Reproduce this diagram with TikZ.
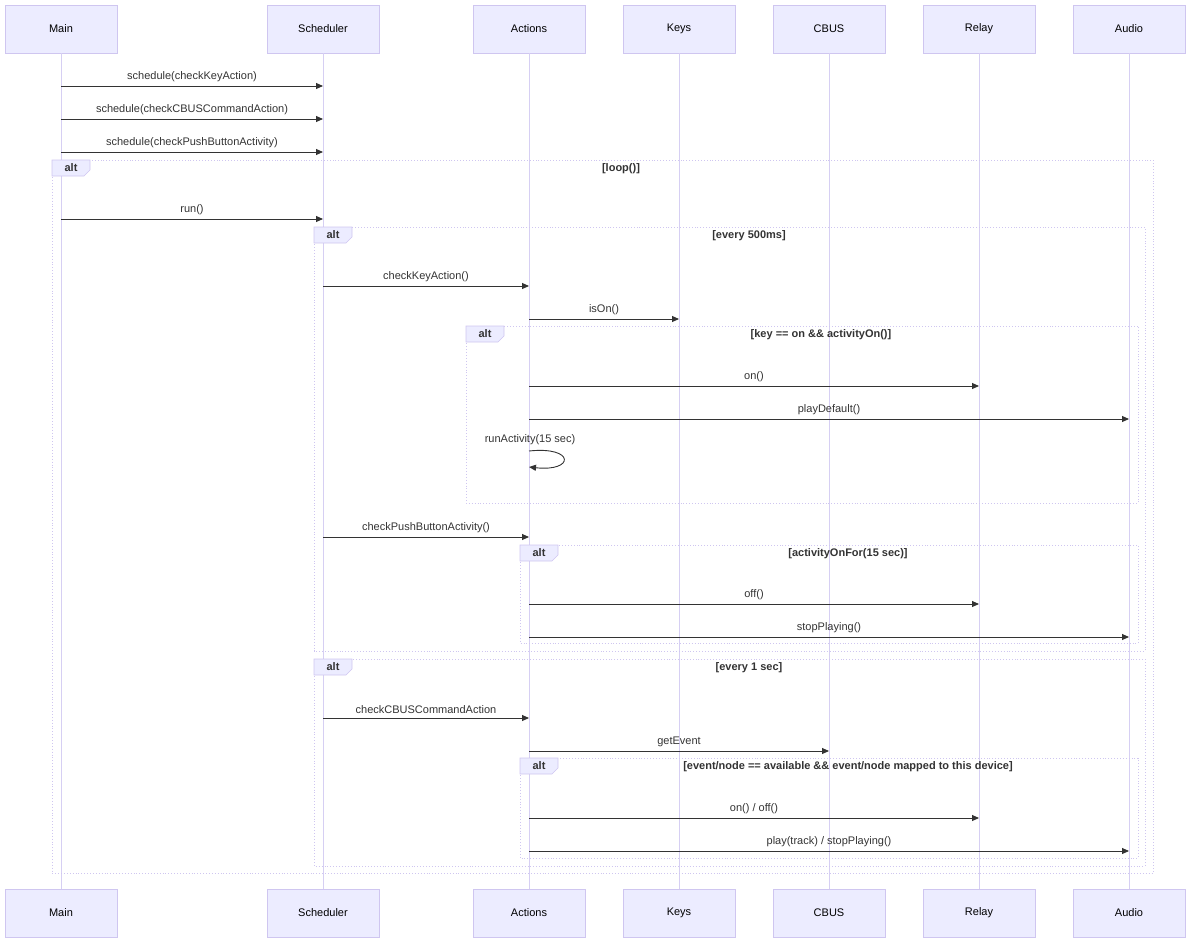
\documentclass[tikz,border=0pt]{standalone}
\usepackage{fontspec}
\setmainfont{Liberation Sans}
\usetikzlibrary{arrows.meta,calc}
\definecolor{actfill}{HTML}{ECECFF}
\definecolor{actline}{HTML}{CFC6F0}
\definecolor{lifeline}{HTML}{D6CFF3}
\definecolor{ink}{HTML}{333333}

\begin{document}
\begin{tikzpicture}[
  x=1pt, y=-1pt,
  actor/.style = {draw=actline, fill=actfill, minimum width=112pt, minimum height=48pt,
    inner sep=0pt, font=\fontsize{11}{13}\selectfont},
  life/.style = {lifeline, line width=1pt},
  msg/.style = {ink, line width=0.9pt, -{Triangle[length=7pt,width=6pt]}},
  lbl/.style = {font=\fontsize{11}{13}\selectfont, text=ink, inner sep=1pt},
  frame/.style = {actline, line width=0.9pt, dotted},
  tab/.style = {draw=actline, fill=actfill, line width=0.6pt},
]
  \useasboundingbox (0,0) rectangle (1193,945);

  % participants, top and bottom
  \foreach \n/\t/\x in {main/Main/61, sched/Scheduler/323, act/Actions/529,
      keys/Keys/679, cbus/CBUS/829, relay/Relay/979, audio/Audio/1129} {
    \node[actor] (\n-top) at (\x,29) {\t};
    \node[actor] (\n-bot) at (\x,913) {\t};
    \draw[life] (\n-top) -- (\n-bot);
  }

  % alt frames: x1/y1/x2/y2/guard/guard x
  \foreach \xa/\ya/\xb/\yb/\g/\gx in {
      52/160/1153/873/{[loop()]}/621,
      314/227/1145/651/{[every 500ms]}/749,
      466/326/1138/503/{[key == on \&\& activityOn()]}/821,
      520/545/1138/643/{[activityOnFor(15 sec)]}/848,
      314/659/1145/866/{[every 1 sec]}/749,
      520/758/1138/858/{[event/node == available \&\& event/node mapped to this device]}/848} {
    \draw[frame] (\xa,\ya) rectangle (\xb,\yb);
    \draw[tab] (\xa,\ya) -- (\xa+38,\ya) -- (\xa+38,\ya+10) -- (\xa+32,\ya+16) -- (\xa,\ya+16) -- cycle;
    \node[lbl, font=\fontsize{11}{13}\selectfont\bfseries] at (\xa+19,\ya+8) {alt};
    \node[lbl, font=\fontsize{11}{13}\selectfont\bfseries] at (\gx,\ya+9) {\g};
  }

  % messages: from/to/y/label
  \foreach \a/\b/\y/\t in {
      main/sched/86/{schedule(checkKeyAction)},
      main/sched/119/{schedule(checkCBUSCommandAction)},
      main/sched/152/{schedule(checkPushButtonActivity)},
      main/sched/219/{run()},
      sched/act/286/{checkKeyAction()},
      act/keys/319/{isOn()},
      act/relay/386/{on()},
      act/audio/419/{playDefault()},
      sched/act/537/{checkPushButtonActivity()},
      act/relay/604/{off()},
      act/audio/637/{stopPlaying()},
      sched/act/718/{checkCBUSCommandAction},
      act/cbus/751/{getEvent},
      act/relay/818/{on() / off()},
      act/audio/851/{play(track) / stopPlaying()}} {
    \coordinate (s) at (\a-top.center |- 0,\y);
    \coordinate (e) at (\b-top.center |- 0,\y);
    \draw[msg] (s) -- (e);
    \node[lbl, above=3pt] at ($(s)!0.5!(e)$) {\t};
  }

  % self call
  \coordinate (sa) at (529,451);
  \coordinate (sb) at (529,467);
  \draw[msg] (sa) .. controls (575,446) and (575,472) .. (sb);
  \node[lbl] at (530,440) {runActivity(15 sec)};
\end{tikzpicture}
\end{document}
